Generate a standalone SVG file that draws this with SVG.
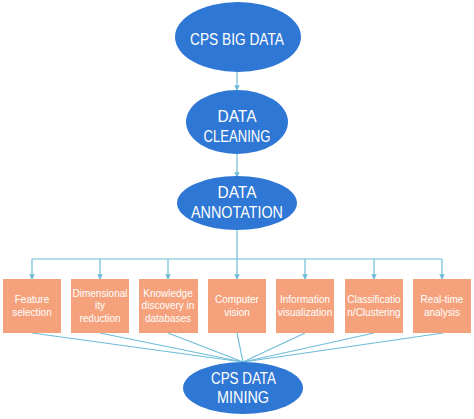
<svg xmlns="http://www.w3.org/2000/svg" width="474" height="419" viewBox="0 0 474 419">
<defs>
<style>
.ell{fill:#2f77d4;}
.box{fill:#f5a27c;}
.et{font-family:"Liberation Sans",Arial,sans-serif;font-size:17px;fill:#ffffff;text-anchor:middle;}
.bt{font-family:"Liberation Sans",Arial,sans-serif;font-size:10px;fill:#ffffff;text-anchor:middle;}
.cn{stroke:#6fbcd8;stroke-width:1.2;fill:none;}
</style>
<marker id="ah" viewBox="0 0 8 8" refX="7" refY="4" markerWidth="5.5" markerHeight="5.5" orient="auto" markerUnits="userSpaceOnUse">
<path d="M0,0 L8,4 L0,8 z" fill="#6fbcd8"/>
</marker>
</defs>
<rect width="474" height="419" fill="#ffffff"/>
<g id="connectors">
<line class="cn" x1="237" y1="72" x2="237" y2="90" marker-end="url(#ah)"/>
<line class="cn" x1="237" y1="154" x2="237" y2="177" marker-end="url(#ah)"/>
<line class="cn" x1="237" y1="230" x2="237" y2="279" marker-end="url(#ah)"/>
<line class="cn" x1="32" y1="259" x2="442" y2="259"/>
<line class="cn" x1="32" y1="259" x2="32" y2="279" marker-end="url(#ah)"/>
<line class="cn" x1="100" y1="259" x2="100" y2="279" marker-end="url(#ah)"/>
<line class="cn" x1="168" y1="259" x2="168" y2="279" marker-end="url(#ah)"/>
<line class="cn" x1="305" y1="259" x2="305" y2="279" marker-end="url(#ah)"/>
<line class="cn" x1="374" y1="259" x2="374" y2="279" marker-end="url(#ah)"/>
<line class="cn" x1="442" y1="259" x2="442" y2="279" marker-end="url(#ah)"/>
<line class="cn" x1="32" y1="333" x2="243" y2="362"/>
<line class="cn" x1="100" y1="333" x2="243" y2="362"/>
<line class="cn" x1="168" y1="333" x2="243" y2="362"/>
<line class="cn" x1="237" y1="333" x2="243" y2="362"/>
<line class="cn" x1="305" y1="333" x2="243" y2="362"/>
<line class="cn" x1="374" y1="333" x2="243" y2="362"/>
<line class="cn" x1="443" y1="333" x2="243" y2="362"/>
</g>
<g id="cps-big-data">
<ellipse class="ell" cx="238" cy="37" rx="63" ry="35"/>
<text class="et" x="237" y="45" textLength="94" lengthAdjust="spacingAndGlyphs">CPS BIG DATA</text>
</g>
<g id="data-cleaning">
<ellipse class="ell" cx="237" cy="122" rx="51" ry="32"/>
<text class="et" x="237" y="122" textLength="39" lengthAdjust="spacingAndGlyphs">DATA</text>
<text class="et" x="237" y="142" textLength="67" lengthAdjust="spacingAndGlyphs">CLEANING</text>
</g>
<g id="data-annotation">
<ellipse class="ell" cx="237" cy="203" rx="60" ry="27"/>
<text class="et" x="237" y="198" textLength="39" lengthAdjust="spacingAndGlyphs">DATA</text>
<text class="et" x="237" y="218" textLength="92" lengthAdjust="spacingAndGlyphs">ANNOTATION</text>
</g>
<g id="feature-selection">
<rect class="box" x="3" y="279" width="58" height="54"/>
<text class="bt" x="32" y="303">Feature</text>
<text class="bt" x="32" y="316">selection</text>
</g>
<g id="dimensionality-reduction">
<rect class="box" x="71" y="279" width="58" height="54"/>
<text class="bt" x="100" y="297">Dimensional</text>
<text class="bt" x="100" y="309">ity</text>
<text class="bt" x="100" y="322">reduction</text>
</g>
<g id="knowledge-discovery">
<rect class="box" x="139" y="279" width="59" height="54"/>
<text class="bt" x="168" y="297">Knowledge</text>
<text class="bt" x="168" y="309">discovery in</text>
<text class="bt" x="168" y="322">databases</text>
</g>
<g id="computer-vision">
<rect class="box" x="208" y="279" width="58" height="54"/>
<text class="bt" x="237" y="303">Computer</text>
<text class="bt" x="237" y="316">vision</text>
</g>
<g id="information-visualization">
<rect class="box" x="276" y="279" width="58" height="54"/>
<text class="bt" x="305" y="303">Information</text>
<text class="bt" x="305" y="316">visualization</text>
</g>
<g id="classification-clustering">
<rect class="box" x="345" y="279" width="58" height="54"/>
<text class="bt" x="374" y="303">Classificatio</text>
<text class="bt" x="374" y="316">n/Clustering</text>
</g>
<g id="real-time-analysis">
<rect class="box" x="413" y="279" width="58" height="54"/>
<text class="bt" x="442" y="303">Real-time</text>
<text class="bt" x="442" y="316">analysis</text>
</g>
<g id="cps-data-mining">
<ellipse class="ell" cx="243" cy="388" rx="60" ry="26"/>
<text class="et" x="243.5" y="384" textLength="65" lengthAdjust="spacingAndGlyphs">CPS DATA</text>
<text class="et" x="243" y="403" textLength="52" lengthAdjust="spacingAndGlyphs">MINING</text>
</g>
</svg>
